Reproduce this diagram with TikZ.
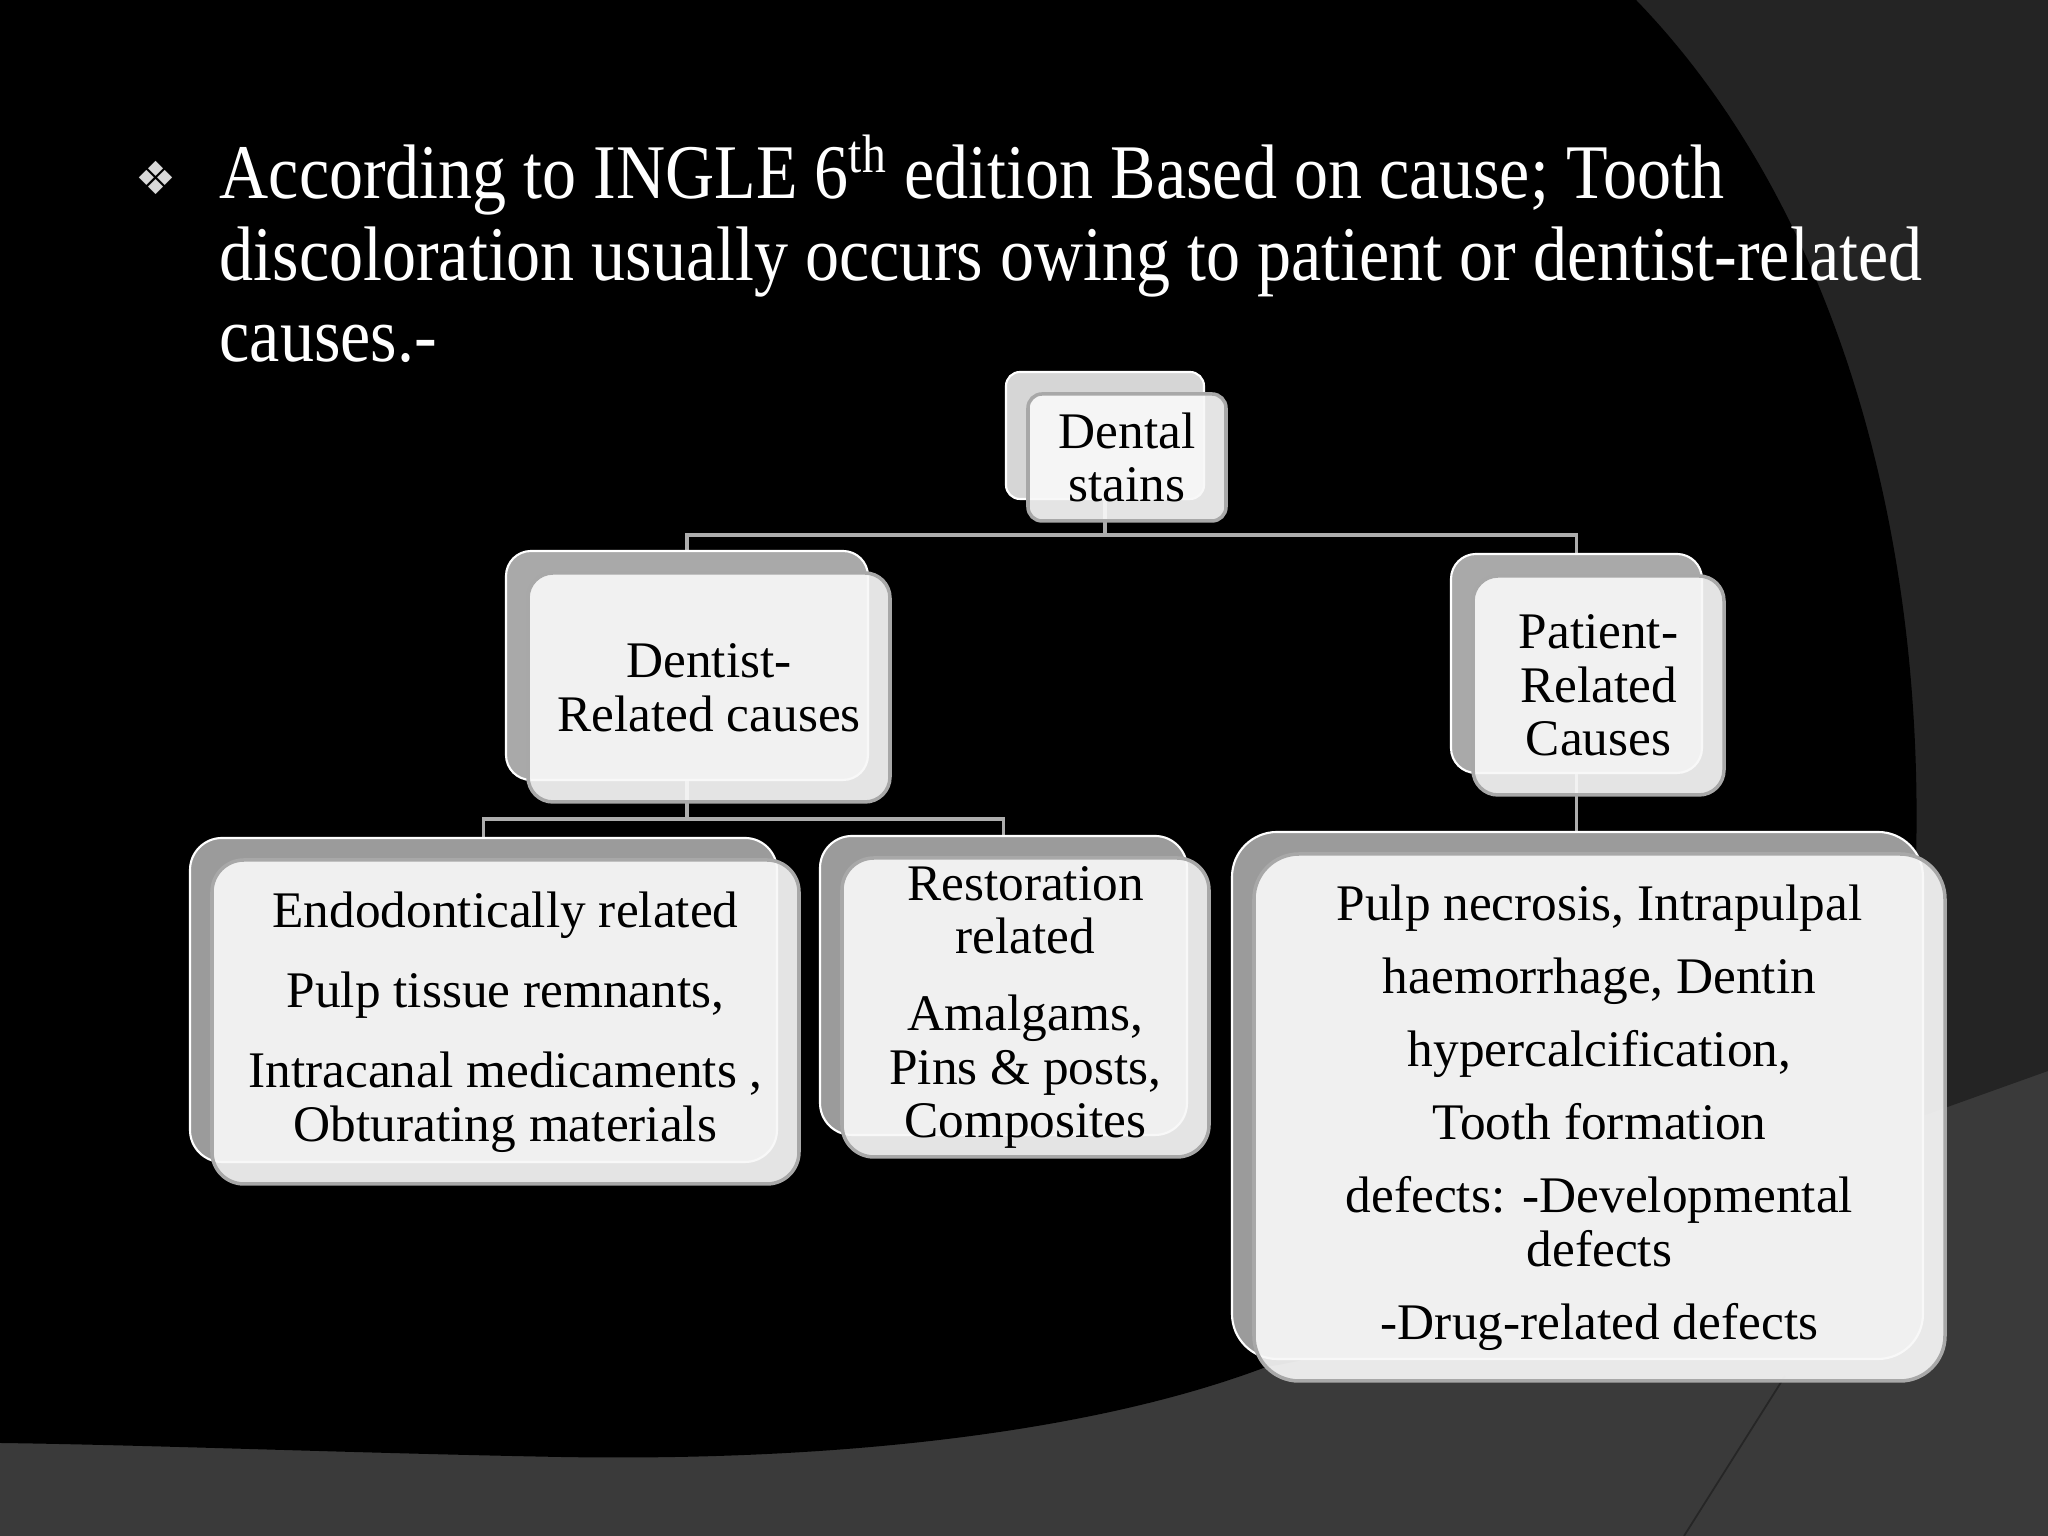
\documentclass[tikz,border=0pt]{standalone}
\usepackage{fontspec}
\setmainfont{Liberation Serif}
\newfontfamily\titlefont[FakeStretch=0.88]{Liberation Serif}
\newfontfamily\bulletfont{DejaVu Sans}
\usetikzlibrary{positioning,shadows}
\definecolor{slidegray}{HTML}{3A3A3A}
\definecolor{cornergray}{HTML}{242424}
\definecolor{facewhite}{HTML}{F8F8F8}
\definecolor{rimgray}{HTML}{A8A8A8}
\definecolor{backlight}{HTML}{D6D6D6}
\definecolor{backmid}{HTML}{A9A9A9}
\definecolor{backdark}{HTML}{9B9B9B}
\definecolor{linkgray}{HTML}{ADADAD}
\definecolor{bulletgray}{HTML}{D9D9D9}
\pgfdeclarelayer{bg}
\pgfdeclarelayer{links}
\pgfsetlayers{bg,links,main}
\tikzset{main node/.style={rectangle,fill=facewhite,fill opacity=0.92,text opacity=1,draw=rimgray,line width=1pt,
            inner sep=0pt,align=center,font=\fontsize{14.6}{15.3}\selectfont},
         copy box/.style={general shadow={fill=#1,fill opacity=1,draw=white,line width=0.6pt,
            shadow xshift=-2.2mm,shadow yshift=2.2mm}},
         link/.style={draw=linkgray,line width=1.1pt},
            }

\begin{document}
\begin{tikzpicture}
    \useasboundingbox (0,0) rectangle (20.48,15.36);

    % slide background
    \begin{pgfonlayer}{bg}
    \fill[slidegray] (0,0) rectangle (20.48,15.36);
    \fill[cornergray] (15,15.36) -- (20.48,15.36) -- (20.48,4.65) -- (19,4.12) -- (15,4.12) -- cycle;
    \fill[black] (0,15.36) -- (16.36,15.36)
        .. controls (18.30,13.36) and (19.25,10.16) .. (19.16,6.76)
        .. controls (19.08,4.36) and (15.00,2.06) .. (12.66,1.69)
        .. controls (11.00,1.06) and (8.50,0.74) .. (5.60,0.79)
        .. controls (3.50,0.83) and (1.50,0.91) .. (0,0.93) -- cycle;
    \draw[black!85,line width=0.5pt] (17.85,1.6) -- (16.84,0);
    \end{pgfonlayer}

    \node[text=bulletgray,font=\bulletfont\fontsize{13}{13}\selectfont] (b) at (1.56,13.58) {❖};
    \node[text=white,anchor=base west,align=left,inner sep=0pt,font=\titlefont\fontsize{22}{23.2}\selectfont] (t) at (2.19,11.74)
        {According to INGLE 6\textsuperscript{th} edition Based on cause; Tooth\\
         discoloration usually occurs owing to patient or dentist-related\\
         causes.-};

    \node[main node,copy box=backlight,rounded corners=0.14cm,minimum width=1.98cm,minimum height=1.27cm] (1) at (11.27,10.785) {Dental\\stains};
    \node[main node,copy box=backmid,rounded corners=0.25cm,minimum width=3.62cm,minimum height=2.29cm] (2) at (7.09,8.485) {Dentist-\\Related causes};
    \node[main node,copy box=backmid,rounded corners=0.25cm,minimum width=2.51cm,minimum height=2.19cm] (3) at (15.985,8.505) {Patient-\\Related\\Causes};
    \node[main node,copy box=backdark,rounded corners=0.32cm,minimum width=5.87cm,minimum height=3.24cm] (4) at (5.055,5.14)
        {Endodontically related\\[7.5pt]Pulp tissue remnants,\\[7.5pt]Intracanal medicaments ,\\Obturating materials};
    \node[main node,copy box=backdark,rounded corners=0.32cm,minimum width=3.67cm,minimum height=2.99cm] (5) at (10.255,5.285)
        {Restoration\\related\\[6.5pt]Amalgams,\\Pins \& posts,\\Composites};
    \node[main node,copy box=backdark,rounded corners=0.45cm,minimum width=6.91cm,minimum height=5.27cm] (6) at (15.995,4.185)
        {Pulp necrosis, Intrapulpal\\[5.5pt]haemorrhage, Dentin\\[5.5pt]hypercalcification,\\[5.5pt]Tooth formation\\[5.5pt]defects: -Developmental\\defects\\[5.5pt]-Drug-related defects};

    \begin{pgfonlayer}{links}
    \path[link]
    ([xshift=-2.2mm]1.center) -- ++(0,-0.775) -| ([xshift=-2.2mm]2.center)
    ([xshift=-2.2mm]1.center) -- ++(0,-0.775) -| ([xshift=-2.2mm]3.center)
    ([xshift=-2.2mm]2.center) -- ++(0,-1.315) -| ([xshift=-2.2mm]4.center)
    ([xshift=-2.2mm]2.center) -- ++(0,-1.315) -| ([xshift=-2.2mm]5.center)
    ([xshift=-2.2mm]3.center) -- ([xshift=-2.2mm]3.center |- 6.center);
    \end{pgfonlayer}

\end{tikzpicture}
\end{document}
